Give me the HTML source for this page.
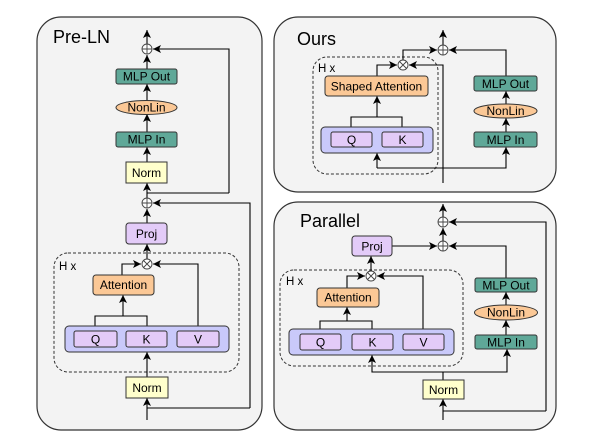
<!DOCTYPE html>
<html><head><meta charset="utf-8"><style>
html,body{margin:0;padding:0;background:#fff;}
svg{display:block;}
text{font-family:"Liberation Sans",sans-serif;}
</style></head><body>
<svg width="600" height="442" viewBox="0 0 600 442" xmlns="http://www.w3.org/2000/svg">
<defs>
<marker id="a" markerUnits="userSpaceOnUse" markerWidth="9" markerHeight="9" refX="8" refY="4.5" orient="auto">
<path d="M0,0.5 L8,4.5 L0,8.5 L2,4.5 z" fill="#000"/>
</marker>
</defs>
<g fill="#f3f3f3" stroke="#333" stroke-width="1.2">
<rect x="37" y="17" width="225" height="413" rx="24"/>
<rect x="274" y="17" width="282" height="175" rx="24"/>
<rect x="274" y="202" width="282" height="228" rx="24"/>
</g>
<g font-size="18" fill="#000">
<text x="53" y="43">Pre-LN</text>
<text x="297" y="45">Ours</text>
<text x="300" y="227">Parallel</text>
</g>
<g fill="none" stroke="#333" stroke-width="1" stroke-dasharray="3,2">
<rect x="54" y="253" width="185" height="119" rx="14"/>
<rect x="313" y="57" width="125" height="117" rx="14"/>
<rect x="280" y="270" width="183" height="96" rx="14"/>
</g>
<g font-size="11.5" fill="#000">
<text x="59" y="270">H x</text>
<text x="318" y="72">H x</text>
<text x="286" y="285">H x</text>
</g>

<g fill="none" stroke="#000" stroke-width="1.1">
<path d="M147 44 V30" marker-end="url(#a)"/>
<path d="M229 193 V49 H153" marker-end="url(#a)"/>
<path d="M147 69 V55" marker-end="url(#a)"/>
<path d="M147 101 V84" marker-end="url(#a)"/>
<path d="M147 132 V114" marker-end="url(#a)"/>
<path d="M147 162 V147" marker-end="url(#a)"/>
<path d="M147 198 V183" marker-end="url(#a)"/>
<path d="M147 193 H229"/>
<path d="M250 408 V203 H153" marker-end="url(#a)"/>
<path d="M147 223 V209" marker-end="url(#a)"/>
<path d="M147 259 V244" marker-end="url(#a)"/>
<path d="M122 275 V264 H141" marker-end="url(#a)"/>
<path d="M198 326 V264 H153" marker-end="url(#a)"/>
<path d="M95 331 V316 H147 V331"/>
<path d="M123 316 V295" marker-end="url(#a)"/>
<path d="M147 377 V352" marker-end="url(#a)"/>
<path d="M147 420 V398" marker-end="url(#a)"/>
<path d="M147 408 H250"/>
<path d="M443 45 V30" marker-end="url(#a)"/>
<path d="M403 60 V50 H437" marker-end="url(#a)"/>
<path d="M506 76 V50 H449" marker-end="url(#a)"/>
<path d="M377 76 V65 H397" marker-end="url(#a)"/>
<path d="M443 183 V65 H409" marker-end="url(#a)"/>
<path d="M351 132 V117 H402 V132"/>
<path d="M377 117 V96" marker-end="url(#a)"/>
<path d="M377 168 V153" marker-end="url(#a)"/>
<path d="M377 168 H506 V147" marker-end="url(#a)"/>
<path d="M506 104 V91" marker-end="url(#a)"/>
<path d="M506 132 V118" marker-end="url(#a)"/>
<path d="M443 217 V204" marker-end="url(#a)"/>
<path d="M443 241 V228" marker-end="url(#a)"/>
<path d="M392 246 H437" marker-end="url(#a)"/>
<path d="M506 278 V246 H449" marker-end="url(#a)"/>
<path d="M546 411 V222 H449" marker-end="url(#a)"/>
<path d="M371 271 V256" marker-end="url(#a)"/>
<path d="M347 288 V276 H365" marker-end="url(#a)"/>
<path d="M423 334 V276 H377" marker-end="url(#a)"/>
<path d="M320 334 V321 H372 V334"/>
<path d="M347 321 V307" marker-end="url(#a)"/>
<path d="M443 380 V372 H372 V355" marker-end="url(#a)"/>
<path d="M443 372 H507 V349" marker-end="url(#a)"/>
<path d="M506 305 V292" marker-end="url(#a)"/>
<path d="M506 335 V320" marker-end="url(#a)"/>
<path d="M443 420 V399" marker-end="url(#a)"/>
<path d="M443 411 H546"/>
</g>

<g fill="#fff" stroke="#444" stroke-width="0.9">
<circle cx="147" cy="49" r="5"/><path d="M142 49 H152 M147 44 V54"/>
<circle cx="147" cy="203" r="5"/><path d="M142 203 H152 M147 198 V208"/>
<circle cx="443" cy="50" r="5"/><path d="M438 50 H448 M443 45 V55"/>
<circle cx="443" cy="222" r="5"/><path d="M438 222 H448 M443 217 V227"/>
<circle cx="443" cy="246" r="5"/><path d="M438 246 H448 M443 241 V251"/>
<circle cx="147" cy="264" r="5"/><path d="M143.5 260.5 L150.5 267.5 M150.5 260.5 L143.5 267.5"/>
<circle cx="403" cy="65" r="5"/><path d="M399.5 61.5 L406.5 68.5 M406.5 61.5 L399.5 68.5"/>
<circle cx="371" cy="276" r="5"/><path d="M367.5 272.5 L374.5 279.5 M374.5 272.5 L367.5 279.5"/>
</g>

<g stroke="#333" stroke-width="1">
<g fill="#5fa898">
<rect x="116" y="69" width="61" height="15" rx="2"/>
<rect x="116" y="132" width="61" height="15" rx="2"/>
<rect x="474" y="76" width="63" height="15" rx="2"/>
<rect x="474" y="132" width="63" height="15" rx="2"/>
<rect x="475" y="278" width="62" height="14" rx="2"/>
<rect x="475" y="335" width="62" height="14" rx="2"/>
</g>
<g fill="#fbc896">
<ellipse cx="146.5" cy="107.5" rx="30.5" ry="7"/>
<ellipse cx="505.5" cy="111" rx="31.5" ry="7"/>
<ellipse cx="506" cy="312.5" rx="31.5" ry="7.5"/>
<rect x="93" y="275" width="61" height="20" rx="3"/>
<rect x="325" y="76" width="103" height="20" rx="3"/>
<rect x="317" y="288" width="62" height="19" rx="3"/>
</g>
<g fill="#ffffcc">
<rect x="126" y="162" width="41" height="21"/>
<rect x="126" y="377" width="42" height="21"/>
<rect x="423" y="380" width="41" height="19"/>
</g>
<g fill="#c9c9fa">
<rect x="65" y="326" width="164" height="26" rx="4"/>
<rect x="321" y="127" width="112" height="26" rx="4"/>
<rect x="289" y="329" width="165" height="26" rx="4"/>
</g>
<g fill="#e3cbf8">
<rect x="126" y="223" width="41" height="21" rx="3"/>
<rect x="352" y="236" width="40" height="20" rx="3"/>
<rect x="74" y="331" width="43" height="16" rx="2"/>
<rect x="126" y="331" width="41" height="16" rx="2"/>
<rect x="177" y="331" width="42" height="16" rx="2"/>
<rect x="331" y="132" width="41" height="15" rx="2"/>
<rect x="382" y="132" width="41" height="15" rx="2"/>
<rect x="300" y="334" width="41" height="16" rx="2"/>
<rect x="352" y="334" width="41" height="16" rx="2"/>
<rect x="403" y="334" width="41" height="16" rx="2"/>
</g>
</g>

<g font-size="12" fill="#000" text-anchor="middle">
<text x="146.5" y="80.5">MLP Out</text>
<text x="146.5" y="111.5">NonLin</text>
<text x="146.5" y="143.5">MLP In</text>
<text x="146.5" y="177">Norm</text>
<text x="146.5" y="238">Proj</text>
<text x="123.5" y="289">Attention</text>
<text x="95.5" y="343.5">Q</text>
<text x="146.5" y="343.5">K</text>
<text x="198" y="343.5">V</text>
<text x="147" y="392">Norm</text>
<text x="505.5" y="88">MLP Out</text>
<text x="505.5" y="115">NonLin</text>
<text x="505.5" y="144">MLP In</text>
<text x="376.5" y="90.5">Shaped Attention</text>
<text x="351.5" y="144">Q</text>
<text x="402.5" y="144">K</text>
<text x="506" y="289.5">MLP Out</text>
<text x="506" y="316.5">NonLin</text>
<text x="506" y="346.5">MLP In</text>
<text x="372" y="250.5">Proj</text>
<text x="348" y="301.5">Attention</text>
<text x="320.5" y="346.5">Q</text>
<text x="372.5" y="346.5">K</text>
<text x="423.5" y="346.5">V</text>
<text x="443.5" y="394">Norm</text>
</g>
</svg>
</body></html>
